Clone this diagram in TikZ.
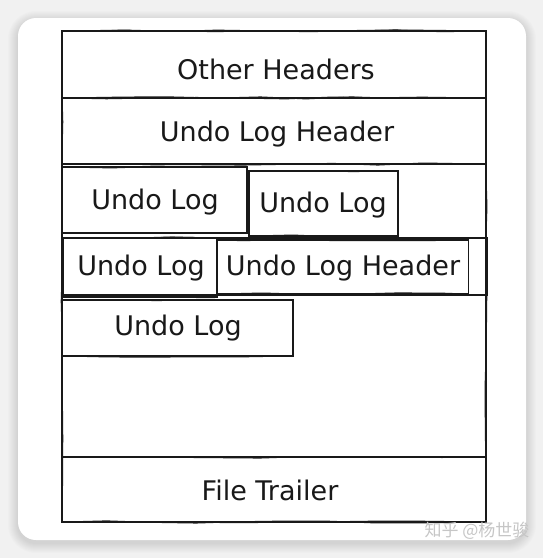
\documentclass[tikz,border=0pt]{standalone}
\usepackage{fontspec}
\newfontfamily\handfont{DejaVu Sans}
\newfontfamily\cjkfont{Noto Sans CJK SC}
\usetikzlibrary{decorations.pathmorphing}
\definecolor{bggray}{RGB}{241,241,241}
\definecolor{ink}{RGB}{25,25,25}
\tikzset{
  sk/.style={draw=ink, line width=1.1pt, rectangle, inner sep=0pt,
    postaction={draw=ink, line width=0.9pt, decorate,
      decoration={random steps, segment length=45pt, amplitude=1.2pt}}},
  lbl/.style={inner sep=0pt, text=ink, font=\handfont\fontsize{27}{32}\selectfont},
}
\begin{document}
\begin{tikzpicture}[x=1pt,y=-1pt]
\pgfmathsetseed{11}
\useasboundingbox (0,0) rectangle (543,558);
\fill[bggray] (0,0) rectangle (543,558);
% card shadow
\foreach \i in {1,...,10}{
  \fill[black, opacity=0.012, rounded corners={18pt+\i pt}]
    (18-\i,18-\i+3) rectangle (526+\i,540+\i+3);
}
\fill[white, rounded corners=18pt] (18,18) rectangle (526,540);

% outer frame
\node[sk, minimum width=424pt, minimum height=491pt] (frame) at (274,276.5) {};
% header sections
\node[sk, minimum width=424pt, minimum height=67pt] (other) at (274,64.5) {};
\node[lbl] (otherT) at (276,69) {Other Headers};
\node[sk, minimum width=424pt, minimum height=66pt] (ulh) at (274,131) {};
\node[lbl] (ulhT) at (277,134) {Undo Log Header};

% row 1
\node[sk, minimum width=185pt, minimum height=66pt] (ul1) at (154.5,200) {};
\node[lbl] (ul1T) at (155,202) {Undo Log};
\node[sk, minimum width=149pt, minimum height=65pt] (ul2) at (323.5,203.5) {};
\node[lbl] (ul2T) at (323,205) {Undo Log};

% row 2
\node[sk, minimum width=425pt, minimum height=57pt] (strip) at (274.5,266.5) {};
\node[sk, minimum width=154pt, minimum height=59pt] (ul3) at (140,267.5) {};
\node[lbl] (ul3T) at (141,268) {Undo Log};
\node[sk, minimum width=251pt, minimum height=54pt] (ulh2) at (343,267) {};
\node[lbl] (ulh2T) at (343,268) {Undo Log Header};

% row 3
\node[sk, minimum width=231pt, minimum height=56pt] (ul4) at (177.5,328) {};
\node[lbl] (ul4T) at (178,328) {Undo Log};

% file trailer
\node[sk, minimum width=424pt, minimum height=65pt] (trailer) at (274,489.5) {};
\node[lbl] (trailerT) at (270,490) {File Trailer};

% watermark
\node[inner sep=0pt, text=gray!45, font=\cjkfont\fontsize{17}{20}\selectfont] (wm) at (477,531) {知乎 @杨世骏};
\end{tikzpicture}
\end{document}
